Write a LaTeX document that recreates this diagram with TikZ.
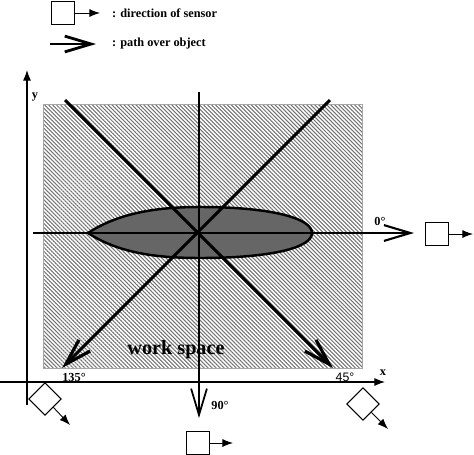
\documentclass[tikz,border=0pt]{standalone}
\usepackage{fontspec}
\setmainfont{Liberation Serif}
\setsansfont{Liberation Sans}
\usetikzlibrary{arrows.meta,patterns.meta}

\begin{document}
\begin{tikzpicture}[x=0.02cm,y=-0.02cm,
	pathway/.style={line width=1.6pt,-{Straight Barb[length=15pt,width=9pt]}},
	sensorbox/.style={draw,line width=0.6pt,minimum size=13pt,inner sep=0pt},
	sensorarrow/.style={line width=0.5pt,-{Latex[length=6pt,width=4.5pt]}},
	axis/.style={line width=0.6pt,-{Latex[length=6pt,width=4.5pt]}},
	lbl/.style={font=\fontsize{7}{8}\selectfont\bfseries,inner sep=1pt}]
	\useasboundingbox (0,0) rectangle (474,454);

	%legend
	\node[sensorbox] (legbox) at (63,13) {};
	\coordinate (legtip) at (100,13);
	\draw[sensorarrow] (legbox.east) -- (legtip);
	\node[lbl,anchor=west] (legsensor) at (110,13) {: direction of sensor};
	\coordinate (legstart) at (50,44);
	\coordinate (legend) at (96,44);
	\draw[pathway] (legstart) -- (legend);
	\node[lbl,anchor=west] (legpath) at (110,44) {: path over object};

	%work space
	\fill[pattern={Lines[angle=-45,distance=1.6pt,line width=0.6pt]},pattern color=black!55] (43,104) rectangle (362,368);
	\draw[gray!70,line width=0.3pt] (43,104) rectangle (362,368);
	\node[font=\fontsize{11.5}{13}\selectfont\bfseries] (ws) at (176,350) {work space};

	%object
	\filldraw[fill=black!60,line width=1.4pt] (88,233) .. controls (120,212) and (160,207) .. (200,207)
		.. controls (270,207) and (312,218) .. (312,233) .. controls (312,248) and (270,258) .. (200,258)
		.. controls (160,258) and (120,254) .. (88,233) -- cycle;

	%axes
	\coordinate (yfoot) at (27,405);
	\coordinate (ytop) at (27,70);
	\coordinate (xfoot) at (0,382);
	\coordinate (xtip) at (385,382);
	\draw[axis] (yfoot) -- (ytop);
	\draw[axis] (xfoot) -- (xtip);
	\node[lbl] (ylbl) at (35,97) {y};
	\node[lbl] (xlbl) at (383,373) {x};

	%paths over object
	\coordinate (p0s) at (33,233);		\coordinate (p0e) at (414,233);
	\coordinate (p90s) at (199,92);		\coordinate (p90e) at (199,418);
	\coordinate (p45s) at (65,100);		\coordinate (p45e) at (333,368);
	\coordinate (p135s) at (330,100);	\coordinate (p135e) at (62,368);
	\draw[pathway,line width=1.2pt] (p0s) -- (p0e);
	\draw[pathway,line width=1pt] (p90s) -- (p90e);
	\draw[pathway,line width=1.8pt] (p45s) -- (p45e);
	\draw[pathway,line width=1.8pt] (p135s) -- (p135e);
	\node[lbl] (l0) at (380,221) {0°};
	\node[lbl] (l90) at (220,405) {90°};
	\node[lbl] (l135) at (74,377) {135°};
	\node[lbl,font=\fontsize{7}{8}\selectfont\sffamily] (l45) at (345,377) {45°};

	%sensors
	\node[sensorbox] (s0) at (437,234) {};
	\coordinate (s0tip) at (473,234);
	\draw[sensorarrow] (s0.east) -- (s0tip);
	\node[sensorbox] (s90) at (198,443) {};
	\coordinate (s90tip) at (233,443);
	\draw[sensorarrow] (s90.east) -- (s90tip);
	\node[sensorbox,rotate=-45] (s45) at (363,404) {};
	\coordinate (s45tip) at (388,429);
	\draw[sensorarrow] (s45.east) -- (s45tip);
	\node[sensorbox,rotate=-45] (s135) at (45,399) {};
	\coordinate (s135tip) at (70,425);
	\draw[sensorarrow] (s135.east) -- (s135tip);
\end{tikzpicture}
\end{document}
